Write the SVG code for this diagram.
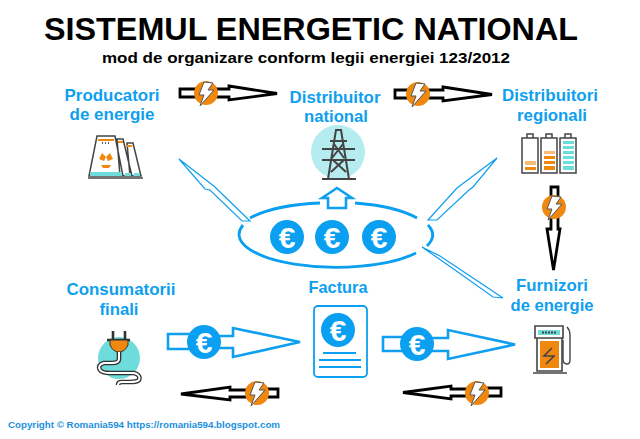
<svg xmlns="http://www.w3.org/2000/svg" width="640" height="439" viewBox="0 0 640 439">
<style>
text{font-family:"Liberation Sans",Arial,sans-serif;font-weight:bold;text-anchor:middle}
.lbl{font-size:16.500px;fill:#0f9fef}
.k{fill:#fff;stroke:#000;stroke-width:2.800}
.b{fill:#fff;stroke:#0f9fef;stroke-width:2.600}
.t{fill:#fff;stroke:#0f9fef;stroke-width:1.200}
.coin{fill:#0a9ff0}
.eu{font-size:30px;fill:#fff}
.or{fill:#f0880f}
.d{fill:none;stroke:#444;stroke-width:1.500}
.ring{fill:none;stroke:#0a9ff0;stroke-width:2.800}
</style>
<defs>
<g id="bolt"><ellipse rx="12" ry="12" class="or"/><path d="M-2-11 L7-10 L2-3 L8-3 L-6 13 L-2 2 L-7 2Z" fill="#fff" stroke="#555" stroke-width="1"/></g>
<g id="coinE"><circle r="17" class="coin"/><text y="10.500" class="eu">€</text></g>
</defs>
<rect width="640" height="439" fill="#fff"/>
<text x="311" y="40" font-size="32" fill="#000" textLength="534" lengthAdjust="spacingAndGlyphs">SISTEMUL ENERGETIC NATIONAL</text>
<text x="306" y="63" font-size="15.500" fill="#000" textLength="408" lengthAdjust="spacingAndGlyphs">mod de organizare conform legii energiei 123/2012</text>
<g id="connectors">
<path class="k" d="M205 89H180V97H205"/>
<path class="k" d="M210 89H229V86L277 93.500L229 100V97H210Z"/>
<use href="#bolt" x="206" y="93"/>
<path class="k" d="M418 90H395V98H418"/>
<path class="k" d="M422 90H443V87L492 94.500L443 101V98H422Z"/>
<use href="#bolt" x="418" y="94"/>
<path class="k" d="M551 205V187H558V205"/>
<path class="k" d="M551 210V229H547L553.500 270L560 229H558V210Z"/>
<use href="#bolt" x="554" y="207"/>
<path class="b" d="M204 334H168V349H204"/>
<path class="b" d="M204 336H233V328L300 342L233 357V348H204Z"/>
<use href="#coinE" x="204" y="342"/>
<path class="b" d="M417 337H383V351H417"/>
<path class="b" d="M417 338H448V330L515 344.500L448 359V351H417Z"/>
<use href="#coinE" x="417" y="344"/>
<path class="k" d="M257 389H278V397H257"/>
<path class="k" d="M257 390H230V387L181 394L230 400V397H257Z"/>
<use href="#bolt" x="257" y="393"/>
<path class="k" d="M477 388H501V396H477"/>
<path class="k" d="M477 389H451V386L403 392.500L451 399V396H477Z"/>
<use href="#bolt" x="477" y="393"/>
<path class="t" d="M179 159L205 189L210 190L242 221H250L219 191L215 187Z"/>
<path class="t" d="M497 158L457 188L428 220H437L469 190L473 187Z"/>
<path class="t" d="M422 247L455 270L493 297L503 298L470 276L440 256Z"/>
</g>
<g id="node-money">
<path class="ring" d="M250 218A97 33 0 0 1 320 203"/>
<path class="ring" d="M355 203A97 33 0 0 1 417 218"/>
<path class="ring" d="M243 225A97 33 0 0 0 416 253"/>
<path class="ring" d="M428 225A97 33 0 0 1 427 246"/>
<path class="b" d="M322 198L337 188L352 198H346V208H328V198Z"/>
<use href="#coinE" x="287" y="237"/>
<use href="#coinE" x="332" y="237"/>
<use href="#coinE" x="379" y="237"/>
</g>
<g id="node-producatori">
<text x="112" y="101" class="lbl" textLength="95" lengthAdjust="spacingAndGlyphs">Producatori</text>
<text x="112" y="120" class="lbl" textLength="85" lengthAdjust="spacingAndGlyphs">de energie</text>
<path d="M127 143H133L141 176H130Z M117 139H123L132 176H120Z M97 136H115L123 176H89Z" fill="#fff" stroke="#444" stroke-width="1.500"/>
<path d="M90 172H122V176H90Z M125 173H131V176H125Z M134 173H140V176H134Z" fill="#6fdcdc"/>
<path d="M88 178H143" stroke="#444" stroke-width="1.500"/>
<path d="M98 140H114 M118 142H123 M127 146H132" stroke="#f0880f" stroke-width="1.800"/>
<path d="M99 159L102 153L106 157L104 161ZM113 159L110 153L106 157L108 161ZM101 165H111L109 168H103Z" class="or"/>
<path d="M102 143H103M105 143H106M108 143H109" stroke="#222" stroke-width="1.400"/>
</g>
<g id="node-distribuitor">
<text x="335" y="103" class="lbl" textLength="91" lengthAdjust="spacingAndGlyphs">Distribuitor</text>
<text x="336" y="122" class="lbl" textLength="64" lengthAdjust="spacingAndGlyphs">national</text>
<circle cx="338" cy="152" r="27" fill="#b4ecef"/>
<path fill="none" stroke="#444" stroke-width="2" d="M322 179H356 M328 179L336 130H341L349 179 M333 160L346 172 M344 160L331 172 M334 144L344 158 M343 144L332 158 M322 149H355 M322 160H355 M330 141H347"/>
</g>
<g id="node-regionali">
<text x="550" y="101" class="lbl" textLength="96" lengthAdjust="spacingAndGlyphs">Distribuitori</text>
<text x="552" y="121" class="lbl" textLength="70" lengthAdjust="spacingAndGlyphs">regionali</text>
<path class="d" d="M522 138H538V173H522Z M541 138H557V173H541Z M560 138H576V173H560Z M527 138V134H533V138 M546 138V134H552V138 M565 138V134H571V138"/>
<path fill="#f0880f" d="M525 167H536V170H525Z M544 156H555V159H544Z M544 161H555V164H544Z M544 166H555V170H544Z"/>
<path fill="#f8bd72" d="M525 161H536V165H525Z M544 151H555V154H544Z"/>
<path fill="#6fdcdc" d="M563 141H574V144H563Z M563 146H574V149H563Z M563 151H574V154H563Z M563 156H574V159H563Z M563 161H574V164H563Z M563 166H574V170H563Z"/>
</g>
<g id="node-consumatorii">
<text x="121" y="295" class="lbl" textLength="109" lengthAdjust="spacingAndGlyphs">Consumatorii</text>
<text x="119" y="315" class="lbl" textLength="39" lengthAdjust="spacingAndGlyphs">finali</text>
<circle cx="119" cy="358" r="21" fill="#6fdcdc"/>
<path d="M107 340H130 M113 340V331 M125 340V331" stroke="#333" stroke-width="2.600" fill="none"/>
<path d="M110 340H128V345Q125 352 119 352Q113 352 110 345Z" class="or" stroke="#333"/>
<path d="M119 352V359Q119 363 112 363H104Q97 365 100 370Q102 373 110 373H134Q141 375 139 380Q137 382 130 382H122Q118 382 118 385" fill="none" stroke="#333" stroke-width="4.600"/>
<path d="M119 352V359Q119 363 112 363H104Q97 365 100 370Q102 373 110 373H134Q141 375 139 380Q137 382 130 382H122Q118 382 118 385" fill="none" stroke="#fff" stroke-width="2"/>
</g>
<g id="node-factura">
<text x="338" y="293" class="lbl" textLength="59" lengthAdjust="spacingAndGlyphs">Factura</text>
<rect x="314" y="306" width="53" height="71" rx="4" fill="#fff" stroke="#0a9ff0" stroke-width="1.800"/>
<use href="#coinE" x="338" y="330"/>
<path d="M323 353H356 M319 360H361 M319 367H361" stroke="#0a9ff0" stroke-width="2"/>
</g>
<g id="node-furnizori">
<text x="552" y="291" class="lbl" textLength="72" lengthAdjust="spacingAndGlyphs">Furnizori</text>
<text x="552" y="311" class="lbl" textLength="83" lengthAdjust="spacingAndGlyphs">de energie</text>
<path d="M535 326H563V338H535Z M537 338H562V371H537Z M533 373H567" fill="#fff" stroke="#444" stroke-width="1.600"/>
<rect x="538" y="330" width="22" height="5" fill="#6fdcdc"/>
<path d="M542 332.500H556" stroke="#444" stroke-dasharray="2 1" stroke-width="2"/>
<rect x="540" y="341" width="19" height="27" class="or"/>
<path d="M552 348L544 356H554L546 364" fill="none" stroke="#444" stroke-width="1.600"/>
<path d="M567 327Q570 330 570 335V360Q570 364 567 364Q563 364 563 359V340" fill="none" stroke="#444" stroke-width="1.400"/>
</g>
<text x="144" y="428" font-size="9" fill="#1a8fe0" textLength="272" lengthAdjust="spacingAndGlyphs">Copyright © Romania594 https://romania594.blogspot.com</text>
</svg>
